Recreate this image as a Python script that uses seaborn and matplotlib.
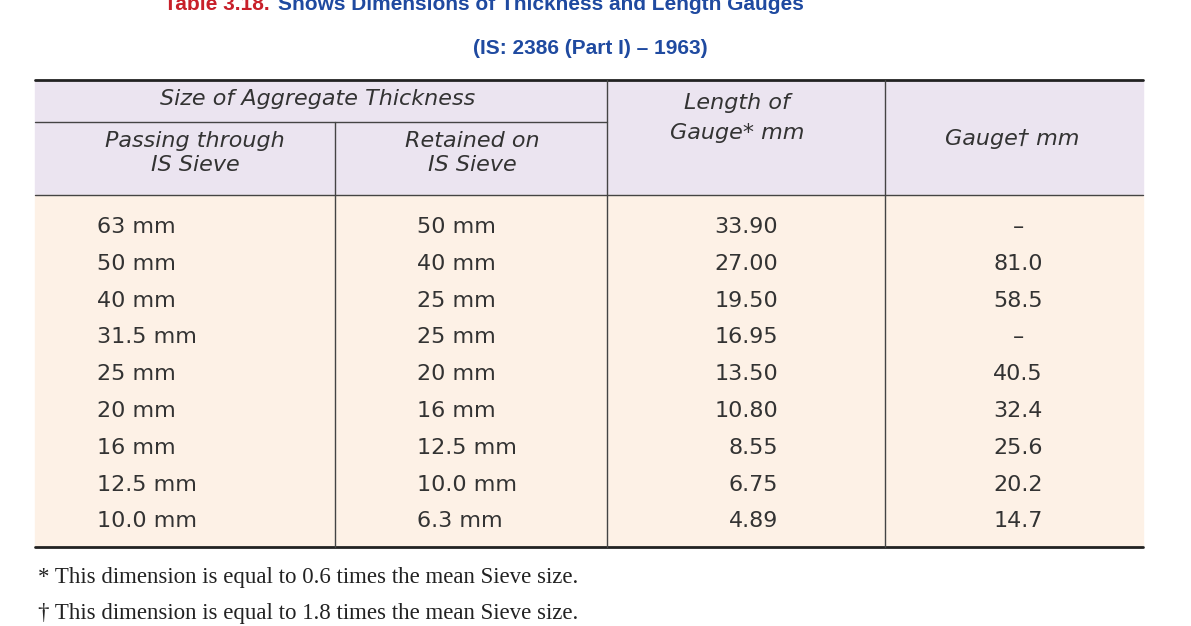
import matplotlib.pyplot as plt
import seaborn as sns
from matplotlib.patches import Rectangle

sns.set_theme(style="white")
plt.rcParams['font.family'] = ['DejaVu Sans']

passing = ['63 mm', '50 mm', '40 mm', '31.5 mm', '25 mm', '20 mm', '16 mm', '12.5 mm', '10.0 mm']
retained = ['50 mm', '40 mm', '25 mm', '25 mm', '20 mm', '16 mm', '12.5 mm', '10.0 mm', '6.3 mm']
length_gauge = ['33.90', '27.00', '19.50', '16.95', '13.50', '10.80', '8.55', '6.75', '4.89']
thick_gauge = ['–', '81.0', '58.5', '–', '40.5', '32.4', '25.6', '20.2', '14.7']

blue = '#1f4aa0'
red = '#c8202a'
txt = '#333333'

fig = plt.figure(figsize=(11.91, 6.26), dpi=100)
ax = fig.add_axes([0, 0, 1, 1])
ax.set_xlim(0, 1191)
ax.set_ylim(626, 0)
ax.axis('off')

# title
tf = dict(fontsize=15, fontweight='bold', va='center', family=['Liberation Sans', 'DejaVu Sans'])
ax.text(270, 5, 'Table 3.18.', color=red, ha='right', **tf)
ax.text(278, 5, 'Shows Dimensions of Thickness and Length Gauges', color=blue, ha='left', **tf)
ax.text(590, 48, '(IS: 2386 (Part I) – 1963)', color=blue, ha='center', **tf)

# backgrounds
x0, x1 = 35, 1143
ax.add_patch(Rectangle((x0, 80), x1 - x0, 115, color='#ebe4f0', zorder=0))
ax.add_patch(Rectangle((x0, 195), x1 - x0, 352, color='#fdf1e6', zorder=0))

# lines
ax.plot([x0, x1], [80, 80], color='#222222', lw=2)
ax.plot([x0, x1], [547, 547], color='#222222', lw=2)
ax.plot([x0, x1], [195, 195], color='#444444', lw=1)
ax.plot([x0, 607], [122, 122], color='#444444', lw=1)
for xv in (607, 885):
    ax.plot([xv, xv], [80, 547], color='#444444', lw=1)
ax.plot([335, 335], [122, 547], color='#444444', lw=1)

# header
hs = dict(color=txt, fontsize=16, fontstyle='italic', va='center', ha='center')
ax.text(318, 99, 'Size of Aggregate Thickness', **hs)
ax.text(195, 153, 'Passing through\nIS Sieve', linespacing=1.3, **hs)
ax.text(472, 153, 'Retained on\nIS Sieve', linespacing=1.3, **hs)
ax.text(737, 118, 'Length of\nGauge* mm', linespacing=1.6, **hs)
ax.text(1012, 139, 'Gauge† mm', **hs)

# body
row_y0, row_h = 227, 36.8
for i in range(len(passing)):
    y = row_y0 + i * row_h
    ax.text(97, y, passing[i], color=txt, fontsize=16, ha='left', va='center')
    ax.text(417, y, retained[i], color=txt, fontsize=16, ha='left', va='center')
    ax.text(778, y, length_gauge[i], color=txt, fontsize=16, ha='right', va='center')
    ax.text(1018, y, thick_gauge[i], color=txt, fontsize=16, ha='center', va='center')

# footnotes
fs = dict(color='#222222', fontsize=16.5, family=['Liberation Serif', 'DejaVu Serif'],
          ha='left', va='center')
ax.text(38, 578, '* This dimension is equal to 0.6 times the mean Sieve size.', **fs)
ax.text(38, 613, '† This dimension is equal to 1.8 times the mean Sieve size.', **fs)

fig.savefig('out.png', dpi=100)
